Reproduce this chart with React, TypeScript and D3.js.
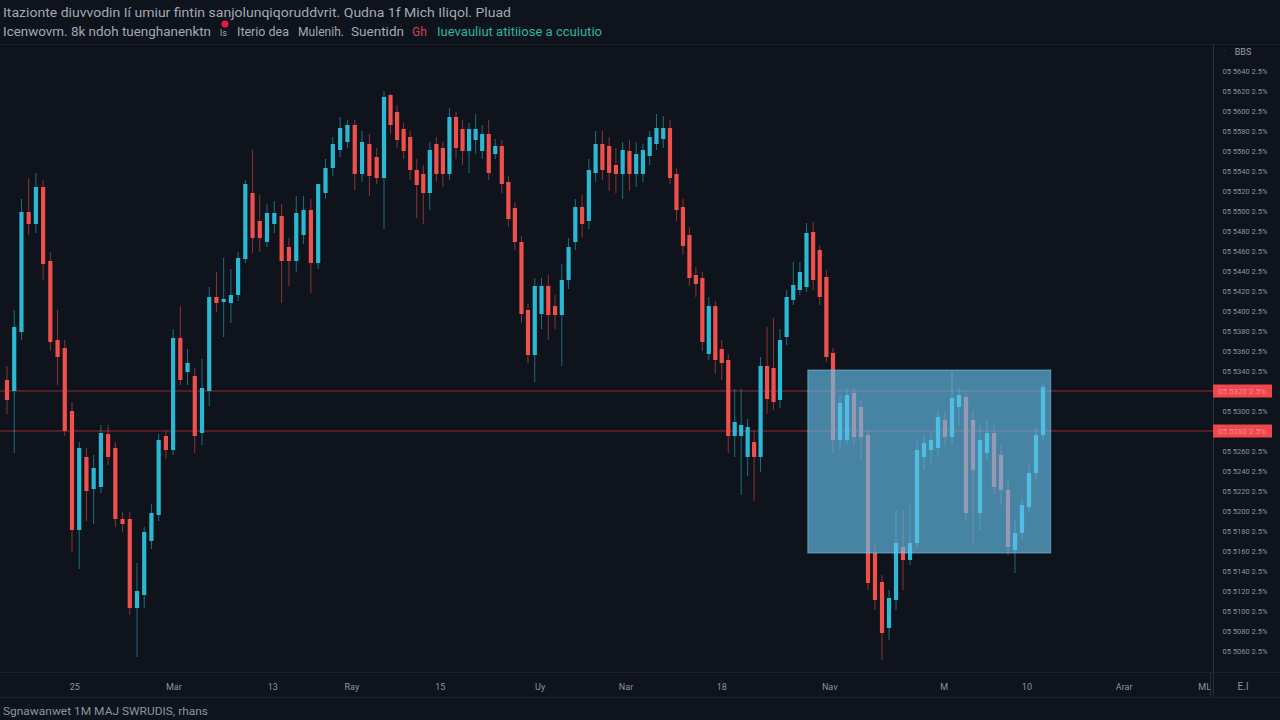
import React from "react";
import * as d3 from "d3";

// ---- candle data (price units), in time order ----
const opens = [331,320,379,499,487,524,450,371,363,300,181,254,222,224,277,263,192,192,103,116,170,196,275,261,373,339,335,278,320,414,409,408,416,452,518,490,469,487,495,464,450,476,501,448,518,543,561,569,586,537,567,554,533,616,599,582,574,541,537,518,567,563,537,594,582,560,571,560,577,557,565,529,503,469,401,356,397,425,405,396,431,469,504,490,538,567,565,546,537,560,537,537,555,567,572,583,537,504,476,436,433,357,405,362,351,275,275,254,269,254,345,343,311,374,411,421,424,479,461,434,358,271,271,318,304,276,158,129,83,111,164,151,168,254,261,263,291,274,304,314,291,198,258,278,256,221,161,178,204,238,276];
const highs = [345,401,512,533,538,531,459,401,371,309,269,263,256,286,286,269,199,199,148,184,207,277,280,382,405,362,343,352,424,439,453,442,459,531,561,516,507,510,507,473,515,515,512,527,552,574,594,591,591,580,577,563,620,617,606,588,580,552,546,569,574,569,603,599,591,588,597,586,591,572,571,535,509,475,407,433,433,436,416,447,473,512,516,552,580,580,574,563,569,571,569,567,580,597,595,591,543,512,484,444,439,414,410,371,357,322,322,292,280,354,384,393,382,421,449,449,488,489,466,441,363,316,323,323,311,281,166,136,121,201,201,206,271,276,278,301,299,339,323,321,301,286,291,286,266,231,191,213,246,283,328];
const lows = [297,258,371,476,478,431,360,326,275,159,142,190,187,218,246,184,179,96,54,103,162,190,252,256,326,326,258,266,305,399,374,388,410,448,458,459,464,478,408,425,439,467,418,442,512,535,554,563,521,529,515,527,482,577,563,552,531,493,487,501,529,524,531,552,546,538,557,552,531,552,518,484,461,388,348,329,382,371,382,345,422,461,473,482,529,531,520,518,512,520,524,529,546,561,563,527,490,456,425,414,360,351,337,331,258,254,216,235,210,239,297,301,303,366,406,416,419,421,406,349,258,261,266,266,251,121,101,51,71,101,121,146,163,241,246,256,266,266,286,191,166,181,251,216,206,156,138,171,199,231,271];
const closes = [311,384,499,487,524,447,369,354,280,181,263,220,243,278,254,192,187,103,120,179,198,271,261,373,331,348,275,323,414,408,412,416,453,527,473,473,498,498,450,450,498,501,448,527,543,567,583,586,537,569,535,533,614,586,571,560,541,526,518,561,537,537,594,563,560,582,582,577,538,565,527,492,469,397,356,425,425,396,396,431,464,504,487,541,567,541,538,537,561,537,557,561,574,583,583,533,501,465,433,427,369,405,351,348,275,289,286,284,254,345,312,309,371,414,426,439,478,431,414,354,271,308,316,274,274,128,111,78,113,168,151,168,261,268,271,294,274,313,316,198,241,271,278,224,221,164,178,206,238,276,324];

// session anchors (candle index) used by the time scale
const sessionIdx = [0, 36, 52, 74, 95, 112, 120, 150];

// ---- axes ----
const priceTicks = d3.range(640, 59, -20);
const levelLines = [320, 280];
const zone = { i0: 116.2, i1: 151.1, top: 341, bottom: 158 };
const dateLabels = ["25","Mar","13","Ray","15","Uy","Nar","18","Nav","M","10","Arar","ML"];
const datePos = [9.4, 23.1, 36.8, 47.6, 60.6, 75.8, 88.5, 103.0, 119.5, 135.9, 147.7, 161.6, 173.1];

const headerLine1 = "Itazionte diuvvodin Ií umiur fintin  sanjolunqiqoruddvrit. Qudna 1f Mich  Iliqol.  Pluad";
const footerText = "Sgnawanwet   1M   MAJ SWRUDIS, rhans";

const UP = "#2bb8d2";
const DOWN = "#f0504b";
const BG = "#0e131c";
const FONT = "Roboto, 'Noto Sans', sans-serif";

export default function App() {
  const W = 1280, H = 720;
  const plotRight = 1213;
  const x = d3.scaleLinear().domain(sessionIdx).range([7, 267, 384, 528, 670, 780, 833, 1043]);
  const y = d3.scaleLinear().domain([60, 640]).range([651, 71]);
  const bw = 4.2;

  return (
    <svg width={W} height={H} style={{ position: "absolute", left: 0, top: 0, display: "block", background: BG }}>
      <rect x={0} y={0} width={W} height={H} fill={BG} />
      {/* frame lines */}
      <line x1={0} x2={W} y1={44.5} y2={44.5} stroke="#1a202b" />
      <line x1={plotRight + 0.5} x2={plotRight + 0.5} y1={44} y2={697} stroke="#2a303b" />
      <line x1={0} x2={W} y1={672.5} y2={672.5} stroke="#1c222d" />
      <line x1={0} x2={W} y1={697.5} y2={697.5} stroke="#1c222d" />

      {/* level lines */}
      {levelLines.map((v, i) => (
        <line key={i} x1={0} x2={plotRight} y1={y(v)} y2={y(v)} stroke="#c8323f" strokeOpacity={0.75} strokeWidth={1} />
      ))}

      {/* candles */}
      {opens.map((o, i) => {
        const c = closes[i];
        const up = c >= o;
        const col = up ? UP : DOWN;
        const cx = x(i);
        const top = y(Math.max(o, c));
        const bot = y(Math.min(o, c));
        return (
          <g key={i}>
            <line x1={cx} x2={cx} y1={y(highs[i])} y2={y(lows[i])} stroke={col} strokeOpacity={0.55} strokeWidth={1} />
            <rect x={cx - bw / 2} y={top} width={bw} height={Math.max(1.5, bot - top)} fill={col} />
          </g>
        );
      })}

      {/* zone box */}
      <rect
        x={x(zone.i0)}
        y={y(zone.top)}
        width={x(zone.i1) - x(zone.i0)}
        height={y(zone.bottom) - y(zone.top)}
        fill="#66bfe9"
        fillOpacity={0.66}
        stroke="#7cc8ee"
        strokeOpacity={0.6}
      />

      {/* right price axis */}
      <text x={1243} y={55} fill="#9aa1ad" fontSize={9} fontFamily={FONT} textAnchor="middle">BBS</text>
      <text x={1224} y={53} fill="#6d7480" fontSize={8} fontFamily={FONT} textAnchor="middle">·</text>
      {priceTicks.map((v) => {
        if (levelLines.includes(v)) return null;
        return (
          <text key={v} x={1245} y={y(v) + 3} fill="#8d94a0" fontSize={7.5} fontFamily={FONT} textAnchor="middle">
            {`05 ${5000 + v} 2.5%`}
          </text>
        );
      })}
      {levelLines.map((v, i) => (
        <g key={i}>
          <rect x={1213} y={y(v) - 6.5} width={59} height={13} fill="#f0474f" />
          <text x={1242} y={y(v) + 3} fill="#ffc2c2" fillOpacity={0.55} fontSize={8} fontFamily={FONT} textAnchor="middle">
            {`05 ${5000 + v} 2.5%`}
          </text>
        </g>
      ))}

      {/* bottom axis */}
      {dateLabels.map((t, i) => (
        <text key={i} x={x(datePos[i])} y={690} fill="#8d94a0" fontSize={9} fontFamily={FONT} textAnchor="middle">{t}</text>
      ))}
      <line x1={1210.5} x2={1210.5} y1={673} y2={697} stroke="#2a303b" />
      <text x={1243} y={690} fill="#8d94a0" fontSize={10} fontFamily={FONT} textAnchor="middle">E.l</text>

      {/* header */}
      <text x={3} y={17} fill="#a3a9b3" fontSize={12.5} fontFamily={FONT} textLength={508} lengthAdjust="spacingAndGlyphs">{headerLine1}</text>
      <text x={3} y={36} fill="#a3a9b3" fontSize={12.5} fontFamily={FONT} textLength={208} lengthAdjust="spacingAndGlyphs">Icenwovm.  8k  ndoh  tuenghanenktn</text>
      <circle cx={225} cy={24} r={3.5} fill="#e8184a" />
      <text x={220} y={36} fill="#a3a9b3" fontSize={9} fontFamily={FONT}>ls</text>
      <text x={237} y={36} fill="#a3a9b3" fontSize={12.5} fontFamily={FONT} textLength={52} lengthAdjust="spacingAndGlyphs">Iterio dea</text>
      <text x={298} y={36} fill="#a3a9b3" fontSize={12.5} fontFamily={FONT} textLength={46} lengthAdjust="spacingAndGlyphs">Mulenih.</text>
      <text x={351} y={36} fill="#a3a9b3" fontSize={12.5} fontFamily={FONT} textLength={53} lengthAdjust="spacingAndGlyphs">Suentidn</text>
      <text x={412} y={36} fill="#d2424b" fontSize={12} fontFamily={FONT}>Gh</text>
      <text x={437} y={36} fill="#2fb3a4" fontSize={12.5} fontFamily={FONT} textLength={165} lengthAdjust="spacingAndGlyphs">Iuevauliut  atitiiose a ccuiutio</text>

      {/* footer */}
      <text x={3} y={715} fill="#8d94a0" fontSize={10} fontFamily={FONT} textLength={205} lengthAdjust="spacingAndGlyphs">{footerText}</text>
    </svg>
  );
}
